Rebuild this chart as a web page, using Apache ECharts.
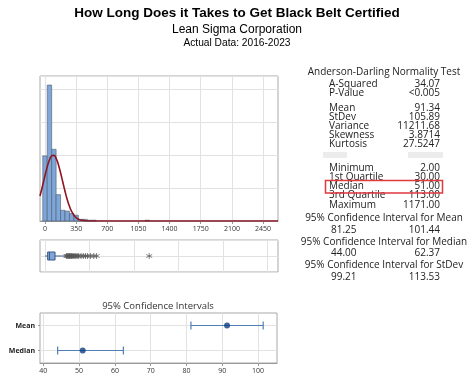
<!DOCTYPE html>
<html>
<head>
<meta charset="utf-8">
<script src="https://cdn.jsdelivr.net/npm/echarts@6/dist/echarts.min.js"></script>
<style>
html,body{margin:0;padding:0;background:#fff;}
#chart{width:474px;height:381px;}
</style>
</head>
<body>
<div id="chart"></div>
<script>
// ---------- data ----------
var histTickValues = [0, 350, 700, 1050, 1400, 1750, 2100, 2450];
var boxGridValues = [0, 500, 1000, 1500, 2000, 2500];
var binCenters = [0, 50, 100, 150, 200, 250, 300, 350, 400, 450, 500, 550, 1150];
var binCounts  = [79, 165, 87, 32, 13, 12, 9, 7, 2, 2, 1, 1, 1];
var binWidth = 50;
// fitted normal curve
var curveX = [-56, -25, 0, 25, 50, 75, 100, 125, 150, 175, 200, 225, 250, 275, 300, 325, 350, 375, 400, 450, 500, 600, 2618];
var curveY = [30.4, 43.7, 55.1, 65.7, 74.1, 79.1, 79.7, 76.1, 68.6, 58.6, 47.3, 36.1, 26.0, 17.8, 11.5, 7.0, 4.0, 2.2, 1.1, 0.3, 0.05, 0, 0];
// boxplot: min whisker, Q1, median, Q3, max whisker
var boxStats = [2, 30, 51, 113, 237];
var outliers = [242, 250, 258, 266, 275, 284, 292, 300, 312, 324, 336, 348, 362, 378, 405, 430, 455, 478, 512, 548, 580, 1171];
// confidence intervals
var ciLabels = ['Median', 'Mean'];
var ciEst  = [51, 91.34];
var ciLow  = [44, 81.25];
var ciHigh = [62.37, 101.44];
var ciTickValues = [40, 50, 60, 70, 80, 90, 100];
// summary table
var statLabels = ['A-Squared', 'P-Value', 'Mean', 'StDev', 'Variance', 'Skewness', 'Kurtosis', 'Minimum', '1st Quartile', 'Median', '3rd Quartile', 'Maximum'];
var statValues = ['34.07', '<0.005', '91.34', '105.89', '11211.68', '3.8714', '27.5247', '2.00', '30.00', '51.00', '113.00', '1171.00'];
var ciHeaders = ['95% Confidence Interval for Mean', '95% Confidence Interval for Median', '95% Confidence Interval for StDev'];
var ciTableLow = ['81.25', '44.00', '99.21'];
var ciTableHigh = ['101.44', '62.37', '113.53'];

// ---------- chart ----------
var chart = echarts.init(document.getElementById('chart'), null, {renderer: 'canvas'});
var FONT = '"Open Sans", "Noto Sans", sans-serif';
var gridLine = {show: true, lineStyle: {color: '#e2e2e2', width: 1}};
var frame = {show: true, borderColor: '#a8a8a8', borderWidth: 1, backgroundColor: '#fff'};

var statY = [84, 93, 108, 117, 126, 135, 144, 168, 177, 186.5, 195.5, 205];
var graphics = [];
function txt(t, x, y, align, font, fill) {
  graphics.push({type: 'text', silent: true, z: 10, style: {text: t, x: x, y: y, align: align, verticalAlign: 'middle', font: font, fill: fill || '#222'}});
}
txt('How Long Does it Takes to Get Black Belt Certified', 237, 13.5, 'center', 'bold 13.5px "Liberation Sans", Arial, sans-serif', '#000');
txt('Lean Sigma Corporation', 237, 29.5, 'center', '12px "Liberation Sans", Arial, sans-serif', '#000');
txt('Actual Data: 2016-2023', 237, 43, 'center', '10.2px "Liberation Sans", Arial, sans-serif', '#000');
var TF = '10px ' + FONT;
txt('Anderson-Darling Normality Test', 384, 72.5, 'center', TF);
for (var i = 0; i < statLabels.length; i++) {
  txt(statLabels[i], 329, statY[i], 'left', TF);
  txt(statValues[i], 440, statY[i], 'right', TF);
}
var ciHeadY = [218, 242, 265.5], ciValY = [230, 253.5, 277];
for (var j = 0; j < ciHeaders.length; j++) {
  txt(ciHeaders[j], 384, ciHeadY[j], 'center', TF);
  txt(ciTableLow[j], 331, ciValY[j], 'left', TF);
  txt(ciTableHigh[j], 440, ciValY[j], 'right', TF);
}
txt('95% Confidence Intervals', 158, 306.5, 'center', '9.5px ' + FONT, '#333');
graphics.push({type: 'rect', silent: true, z: 5, shape: {x: 323, y: 152, width: 24, height: 6}, style: {fill: '#ececec'}});
graphics.push({type: 'rect', silent: true, z: 5, shape: {x: 408, y: 152, width: 35, height: 6}, style: {fill: '#ececec'}});
graphics.push({type: 'rect', silent: true, z: 11, shape: {x: 325.5, y: 180.5, width: 117, height: 12.5}, style: {fill: 'none', stroke: '#e0393e', lineWidth: 1.5}});

var histData = binCenters.map(function (c, k) { return [c - binWidth / 2, c + binWidth / 2, binCounts[k]]; });
var curveData = curveX.map(function (x, k) { return [x, curveY[k]]; });
var ciData = ciLabels.map(function (l, k) { return [k + 0.5, ciLow[k], ciHigh[k]]; });
var ciPts = ciLabels.map(function (l, k) { return [ciEst[k], k + 0.5]; });
var outData = outliers.map(function (v) { return [v, 1]; });

var axisLabelStyle = {fontSize: 7, color: '#333', fontFamily: FONT, margin: 4, formatter: function (v) { return String(v); }};

var option = {
  backgroundColor: '#fff',
  animation: false,
  graphic: graphics,
  grid: [
    Object.assign({left: 40, top: 76, width: 238, height: 145}, frame),
    Object.assign({left: 40, top: 240, width: 238, height: 32}, frame),
    Object.assign({left: 40, top: 313, width: 237, height: 50}, frame)
  ],
  xAxis: [
    {gridIndex: 0, type: 'value', min: -56, max: 2618,
     axisLine: {show: true, lineStyle: {color: '#999'}},
     axisTick: {show: true, length: 3, customValues: histTickValues, lineStyle: {color: '#999'}},
     axisLabel: Object.assign({customValues: histTickValues}, axisLabelStyle),
     splitLine: gridLine},
    {gridIndex: 1, type: 'value', min: -56, max: 2618,
     axisLine: {show: false}, axisTick: {show: false, customValues: boxGridValues},
     axisLabel: {show: false}, splitLine: gridLine},
    {gridIndex: 2, type: 'value', min: 39.07, max: 105.3,
     axisLine: {show: true, lineStyle: {color: '#999'}},
     axisTick: {show: true, length: 3, customValues: ciTickValues, lineStyle: {color: '#999'}},
     axisLabel: Object.assign({customValues: ciTickValues}, axisLabelStyle),
     splitLine: gridLine}
  ],
  yAxis: [
    {gridIndex: 0, type: 'value', min: 0, max: 176, interval: 40,
     axisLine: {show: false}, axisTick: {show: false}, axisLabel: {show: false}, splitLine: gridLine},
    {gridIndex: 1, type: 'value', min: 0, max: 2, interval: 1,
     axisLine: {show: false}, axisTick: {show: false}, axisLabel: {show: false}, splitLine: gridLine},
    {gridIndex: 2, type: 'value', min: 0, max: 2,
     axisLine: {show: false},
     axisTick: {show: true, length: 2, customValues: [0.5, 1.5], lineStyle: {color: '#999'}},
     axisLabel: {customValues: [0.5, 1.5], fontSize: 7, color: '#222', fontWeight: 'bold', fontFamily: FONT, margin: 5,
       formatter: function (v) { return ciLabels[Math.floor(v)]; }},
     splitLine: gridLine}
  ],
  series: [
    {type: 'custom', xAxisIndex: 0, yAxisIndex: 0, data: histData, z: 3,
     renderItem: function (params, api) {
       var p0 = api.coord([api.value(0), api.value(2)]);
       var p1 = api.coord([api.value(1), 0]);
       return {type: 'rect', shape: {x: p0[0], y: p0[1], width: p1[0] - p0[0], height: p1[1] - p0[1]},
               style: {fill: '#7ea6d8', stroke: '#4d5b6e', lineWidth: 0.6}};
     }},
    {type: 'line', xAxisIndex: 0, yAxisIndex: 0, data: curveData, smooth: true, showSymbol: false, z: 4,
     lineStyle: {color: '#8f1420', width: 1.6}, clip: true},
    {type: 'custom', xAxisIndex: 1, yAxisIndex: 1, data: [boxStats], z: 4,
     renderItem: function (params, api) {
       var y = api.coord([0, 1])[1];
       var xs = [0, 1, 2, 3, 4].map(function (k) { return api.coord([api.value(k), 1])[0]; });
       var h = 8;
       return {type: 'group', children: [
         {type: 'line', shape: {x1: xs[0], y1: y, x2: xs[1], y2: y}, style: {stroke: '#3d5b85', lineWidth: 1}},
         {type: 'line', shape: {x1: xs[3], y1: y, x2: xs[4], y2: y}, style: {stroke: '#3d5b85', lineWidth: 1}},
         {type: 'rect', shape: {x: xs[1], y: y - h / 2, width: xs[3] - xs[1], height: h}, style: {fill: '#7ea6d8', stroke: '#3d5b85', lineWidth: 1}},
         {type: 'line', shape: {x1: xs[2], y1: y - h / 2, x2: xs[2], y2: y + h / 2}, style: {stroke: '#3d5b85', lineWidth: 1}}
       ]};
     }},
    {type: 'scatter', xAxisIndex: 1, yAxisIndex: 1, data: outData, z: 5,
     symbol: 'path://M5,0L5,10M0,2.5L10,7.5M0,7.5L10,2.5', symbolSize: 6,
     itemStyle: {color: 'none', borderColor: '#555', borderWidth: 0.9}},
    {type: 'custom', xAxisIndex: 2, yAxisIndex: 2, data: ciData, z: 4,
     renderItem: function (params, api) {
       var a = api.coord([api.value(1), api.value(0)]);
       var b = api.coord([api.value(2), api.value(0)]);
       var c = 4;
       var st = {stroke: '#4f7fb6', lineWidth: 1.2};
       return {type: 'group', children: [
         {type: 'line', shape: {x1: a[0], y1: a[1], x2: b[0], y2: b[1]}, style: st},
         {type: 'line', shape: {x1: a[0], y1: a[1] - c, x2: a[0], y2: a[1] + c}, style: st},
         {type: 'line', shape: {x1: b[0], y1: b[1] - c, x2: b[0], y2: b[1] + c}, style: st}
       ]};
     }},
    {type: 'scatter', xAxisIndex: 2, yAxisIndex: 2, data: ciPts, z: 6, symbol: 'circle', symbolSize: 6,
     itemStyle: {color: '#0f3d80'}}
  ]
};
chart.setOption(option);
</script>
</body>
</html>
